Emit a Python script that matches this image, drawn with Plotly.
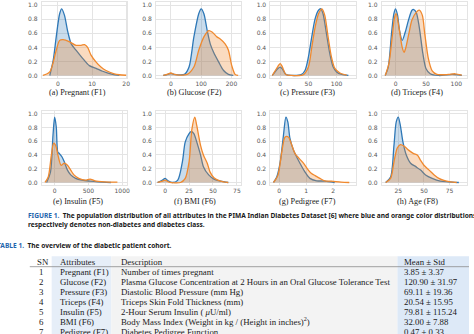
import plotly.graph_objects as go

W, H = 474, 334

# ---- density curves (scaled), non-diabetes (blue) vs diabetes (orange) ----
pregnant_neg_x = [-2.4, -1.4, -0.5, 0.5, 1.1, 1.9, 2.9, 3.9, 5.3, 7.3, 9.2, 11.2, 13.1, 16.0, 18.0]
pregnant_neg_y = [0.0, 0.21, 0.55, 0.88, 0.95, 0.86, 0.62, 0.45, 0.36, 0.24, 0.14, 0.10, 0.06, 0.015, 0.0]
pregnant_pos_x = [-4.4, -2.4, -0.5, 0.5, 1.5, 3.4, 5.3, 6.8, 7.8, 8.7, 9.7, 11.2, 12.6, 14.1, 16.5, 18.0, 20.0]
pregnant_pos_y = [0.0, 0.05, 0.36, 0.50, 0.51, 0.48, 0.43, 0.43, 0.44, 0.40, 0.29, 0.19, 0.12, 0.07, 0.024, 0.01, 0.003]

glucose_neg_x = [-25, -10, 0, 10, 25, 45, 60, 76, 92, 100, 109, 120, 130, 141, 158, 174, 190, 206]
glucose_neg_y = [0.0, 0.015, 0.03, 0.015, 0.008, 0.015, 0.12, 0.55, 0.88, 0.95, 0.88, 0.64, 0.45, 0.33, 0.19, 0.07, 0.015, 0.0]
glucose_pos_x = [-25, -10, 0, 12, 30, 54, 76, 92, 109, 125, 136, 152, 163, 179, 190, 201, 212, 222]
glucose_pos_y = [0.0, 0.02, 0.035, 0.015, 0.005, 0.015, 0.12, 0.36, 0.55, 0.64, 0.62, 0.55, 0.52, 0.45, 0.36, 0.14, 0.015, 0.0]

pressure_neg_x = [-14, -4, 0, 4, 10, 20, 38, 44, 50, 56, 62, 68, 72, 76, 82, 88, 94, 100, 109, 121]
pressure_neg_y = [0.0, 0.10, 0.12, 0.09, 0.015, 0.0, 0.015, 0.07, 0.26, 0.55, 0.81, 0.93, 0.95, 0.88, 0.60, 0.31, 0.12, 0.05, 0.015, 0.0]
pressure_pos_x = [-14, -4, 0, 4, 10, 20, 41, 50, 56, 62, 68, 74, 79, 85, 91, 97, 106, 118]
pressure_pos_y = [0.0, 0.13, 0.17, 0.12, 0.015, 0.0, 0.01, 0.12, 0.40, 0.69, 0.88, 0.95, 0.86, 0.55, 0.26, 0.10, 0.035, 0.005]

triceps_neg_x = [-17, -12, -6.6, -2.7, 0, 3.3, 6.6, 11, 16, 22, 27, 30, 34, 39, 45, 50, 57, 71, 93, 109]
triceps_neg_y = [0.0, 0.12, 0.60, 0.88, 0.95, 0.86, 0.64, 0.50, 0.62, 0.81, 0.93, 0.94, 0.90, 0.69, 0.31, 0.10, 0.025, 0.0, 0.015, 0.0]
triceps_pos_x = [-17, -11, -5.5, -1.6, 1, 5.5, 11, 14, 17, 22, 27, 34, 39, 44, 48, 54, 60, 68, 87, 98, 109]
triceps_pos_y = [0.0, 0.17, 0.55, 0.83, 0.88, 0.69, 0.40, 0.33, 0.40, 0.60, 0.79, 0.90, 0.93, 0.86, 0.60, 0.24, 0.07, 0.015, 0.015, 0.024, 0.005]

insulin_neg_x = [-119, -62, -24, 0, 24, 48, 71, 110, 143, 190, 238, 310, 405, 524, 643, 833]
insulin_neg_y = [0.0, 0.15, 0.69, 0.95, 0.81, 0.44, 0.42, 0.37, 0.30, 0.18, 0.11, 0.06, 0.034, 0.02, 0.01, 0.0]
insulin_pos_x = [-143, -95, -48, -14, 14, 48, 95, 143, 190, 238, 286, 357, 452, 524, 595, 738, 929]
insulin_pos_y = [0.0, 0.08, 0.40, 0.57, 0.54, 0.40, 0.25, 0.28, 0.25, 0.18, 0.11, 0.06, 0.034, 0.05, 0.025, 0.01, 0.005]

bmi_neg_x = [-8, -2.8, 0, 3, 7.6, 13, 18, 21, 25, 27, 30, 33, 37, 40, 45.5, 51, 58, 66]
bmi_neg_y = [0.0, 0.034, 0.06, 0.025, 0.0, 0.03, 0.30, 0.59, 0.71, 0.74, 0.71, 0.59, 0.40, 0.23, 0.11, 0.05, 0.02, 0.0]
bmi_pos_x = [-8, -2.8, 0, 4, 16, 21, 25, 28, 31, 33, 37, 40, 44, 47, 51, 58, 66]
bmi_pos_y = [0.0, 0.02, 0.034, 0.005, 0.0, 0.06, 0.30, 0.78, 0.95, 0.83, 0.54, 0.40, 0.28, 0.15, 0.07, 0.02, 0.0]

pedigree_neg_x = [-0.21, -0.09, 0.04, 0.16, 0.25, 0.32, 0.40, 0.53, 0.65, 0.77, 0.96, 1.14, 1.39, 1.69, 2.06]
pedigree_neg_y = [0.0, 0.08, 0.30, 0.69, 0.95, 0.88, 0.64, 0.47, 0.37, 0.28, 0.15, 0.06, 0.025, 0.02, 0.0]
pedigree_pos_x = [-0.21, -0.05, 0.10, 0.22, 0.34, 0.47, 0.59, 0.74, 0.90, 1.08, 1.20, 1.33, 1.51, 1.69, 1.94, 2.30, 2.60]
pedigree_pos_y = [0.0, 0.10, 0.45, 0.66, 0.66, 0.54, 0.42, 0.35, 0.28, 0.18, 0.13, 0.10, 0.06, 0.025, 0.02, 0.005, 0.0]

age_neg_x = [12.7, 17.5, 20.8, 23, 25, 27, 29.5, 32.8, 37, 42, 46.8, 51.6, 58, 66, 74, 84]
age_neg_y = [0.0, 0.08, 0.54, 0.88, 0.95, 0.83, 0.59, 0.40, 0.28, 0.23, 0.18, 0.11, 0.06, 0.02, 0.01, 0.0]
age_pos_x = [12.7, 17.5, 20.8, 24, 27, 30.5, 35, 40, 43.5, 46.8, 50, 55, 60, 64.6, 69.5, 76, 82]
age_pos_y = [0.0, 0.06, 0.30, 0.50, 0.55, 0.53, 0.47, 0.42, 0.40, 0.32, 0.25, 0.18, 0.11, 0.06, 0.03, 0.01, 0.0]

panel_titles = ["(a) Pregnant (F1)", "(b) Glucose (F2)", "(c) Pressure (F3)", "(d) Triceps (F4)",
                "(e) Insulin (F5)", "(f) BMI (F6)", "(g) Pedigree (F7)", "(h) Age (F8)"]
x_tickvals = [[0, 10, 20], [0, 100, 200], [0, 50, 100], [0, 50, 100],
              [0, 500, 1000], [0, 25, 50, 75], [0, 1, 2], [25, 50, 75]]
x_ranges = [[-4.75, 20.3], [-49, 233], [-17.6, 134], [-23, 117.6],
            [-191, 1074], [-9.6, 79.8], [-0.33, 2.84], [8.7, 92]]
y_tickvals = [0.0, 0.2, 0.4, 0.6, 0.8, 1.0]

# ---- table content ----
sn = ["1", "2", "3", "4", "5", "6", "7"]
attributes = ["Pregnant (F1)", "Glucose (F2)", "Pressure (F3)", "Triceps (F4)",
              "Insulin (F5)", "BMI (F6)", "Pedigree (F7)"]
descriptions = ["Number of times pregnant",
                "Plasma Glucose Concentration at 2 Hours in an Oral Glucose Tolerance Test",
                "Diastolic Blood Pressure (mm Hg)",
                "Triceps Skin Fold Thickness (mm)",
                "2-Hour Serum Insulin ( <i>μ</i>U/ml)",
                "Body Mass Index (Weight in kg / (Height in inches)<sup>2</sup>)",
                "Diabetes Pedigree Function"]
mean_std = ["3.85 ± 3.37", "120.90 ± 31.97", "69.11 ± 19.36", "20.54 ± 15.95",
            "79.81 ± 115.24", "32.00 ± 7.88", "0.47 ± 0.33"]

curves = [
    (pregnant_neg_x, pregnant_neg_y, pregnant_pos_x, pregnant_pos_y),
    (glucose_neg_x, glucose_neg_y, glucose_pos_x, glucose_pos_y),
    (pressure_neg_x, pressure_neg_y, pressure_pos_x, pressure_pos_y),
    (triceps_neg_x, triceps_neg_y, triceps_pos_x, triceps_pos_y),
    (insulin_neg_x, insulin_neg_y, insulin_pos_x, insulin_pos_y),
    (bmi_neg_x, bmi_neg_y, bmi_pos_x, bmi_pos_y),
    (pedigree_neg_x, pedigree_neg_y, pedigree_pos_x, pedigree_pos_y),
    (age_neg_x, age_neg_y, age_pos_x, age_pos_y),
]

BLUE, BLUE_FILL = "#2e78b7", "rgba(46,120,183,0.26)"
ORANGE, ORANGE_FILL = "#f0892e", "rgba(240,137,46,0.30)"


def px_x(v):
    return v / W


def px_y(v):
    return 1 - v / H


col_px = [(42, 128), (157, 243), (272, 358), (384, 470)]
row_px = [(1.5, 77.5), (110.2, 184.8)]
caption_cx = [78, 196, 309, 420]
caption_cy = [92, 201]

fig = go.Figure()
layout = {}
annotations = []
shapes = []

for i, (nx, ny, ox, oy) in enumerate(curves):
    r, c = divmod(i, 4)
    suffix = "" if i == 0 else str(i + 1)
    xa, ya = "x" + suffix, "y" + suffix
    fig.add_trace(go.Scatter(x=nx, y=ny, mode="lines", line=dict(color=BLUE, width=1.3, shape="spline", smoothing=0.8),
                             fill="tozeroy", fillcolor=BLUE_FILL, xaxis=xa, yaxis=ya, showlegend=False,
                             hoverinfo="skip"))
    fig.add_trace(go.Scatter(x=ox, y=oy, mode="lines", line=dict(color=ORANGE, width=1.3, shape="spline", smoothing=0.8),
                             fill="tozeroy", fillcolor=ORANGE_FILL, xaxis=xa, yaxis=ya, showlegend=False,
                             hoverinfo="skip"))
    x0, x1 = col_px[c]
    y0, y1 = row_px[r]
    layout["xaxis" + suffix] = dict(
        domain=[px_x(x0), px_x(x1)], anchor=ya, range=x_ranges[i], tickvals=x_tickvals[i],
        showgrid=True, gridcolor="#e4e4e4", gridwidth=0.8, zeroline=False,
        showline=True, linecolor="#e4e4e4", linewidth=0.8, mirror=True, ticks="",
        tickfont=dict(family="DejaVu Sans", size=6, color="#555555"), ticklabelstandoff=0)
    layout["yaxis" + suffix] = dict(
        domain=[px_y(y1), px_y(y0)], anchor=xa, range=[-0.04, 1.04], tickvals=y_tickvals,
        tickformat=".1f", showgrid=True, gridcolor="#e4e4e4", gridwidth=0.8, zeroline=False,
        showline=True, linecolor="#e4e4e4", linewidth=0.8, mirror=True, ticks="",
        tickfont=dict(family="DejaVu Sans", size=6, color="#555555"), ticklabelstandoff=2)
    annotations.append(dict(text=panel_titles[i], x=px_x(caption_cx[c]), y=px_y(caption_cy[r]),
                            xref="paper", yref="paper", xanchor="center", yanchor="middle", showarrow=False,
                            font=dict(family="Liberation Serif", size=8.2, color="#222222")))

# figure caption
cap_font = dict(family="Noto Sans", size=6.6, color="#1a1a1a")
annotations.append(dict(
    text="<b><span style='color:#1f64ad'>FIGURE 1.</span>  The population distribution of all attributes in the "
         "PIMA Indian Diabetes Dataset [6] where blue and orange color distributions</b>",
    x=px_x(26), y=px_y(215), xref="paper", yref="paper", xanchor="left", yanchor="middle",
    showarrow=False, font=cap_font))
annotations.append(dict(
    text="<b>respectively denotes non-diabetes and diabetes class.</b>",
    x=px_x(26), y=px_y(224), xref="paper", yref="paper", xanchor="left", yanchor="middle",
    showarrow=False, font=cap_font))
annotations.append(dict(
    text="<b><span style='color:#1f64ad'>TABLE 1.</span>  The overview of the diabetic patient cohort.</b>",
    x=px_x(-5), y=px_y(245), xref="paper", yref="paper", xanchor="left", yanchor="middle",
    showarrow=False, font=cap_font))

# table backgrounds and header rule
table_top, table_bottom = 256, 340
shapes.append(dict(type="rect", xref="paper", yref="paper", x0=px_x(52), x1=px_x(112),
                   y0=px_y(table_bottom), y1=px_y(table_top), fillcolor="#e6eef8", line_width=0, layer="below"))
shapes.append(dict(type="rect", xref="paper", yref="paper", x0=px_x(112), x1=px_x(400),
                   y0=px_y(table_bottom), y1=px_y(table_top), fillcolor="#f3f3f3", line_width=0, layer="below"))
shapes.append(dict(type="rect", xref="paper", yref="paper", x0=px_x(400), x1=px_x(472),
                   y0=px_y(table_bottom), y1=px_y(table_top), fillcolor="#dde9f7", line_width=0, layer="below"))
shapes.append(dict(type="line", xref="paper", yref="paper", x0=px_x(30), x1=px_x(472),
                   y0=px_y(266.5), y1=px_y(266.5), line=dict(color="#8a8a8a", width=0.8)))

tab_font = dict(family="Liberation Serif", size=8.8, color="#1a1a1a")
col_x = [35, 58, 120, 405]
header = ["SN", "Attributes", "Description", "Mean ± Std"]
for cx, txt in zip(col_x, header):
    annotations.append(dict(text=txt, x=px_x(cx), y=px_y(261.5), xref="paper", yref="paper",
                            xanchor="left", yanchor="middle", showarrow=False, font=tab_font))
for k in range(len(sn)):
    ry = 271.5 + 10 * k
    for cx, txt in zip(col_x, [sn[k], attributes[k], descriptions[k], mean_std[k]]):
        annotations.append(dict(text=txt, x=px_x(cx + (2 if cx == 35 else 0)), y=px_y(ry), xref="paper",
                                yref="paper", xanchor="left", yanchor="middle", showarrow=False, font=tab_font))

fig.update_layout(width=W, height=H, margin=dict(l=0, r=0, t=0, b=0), paper_bgcolor="white",
                  plot_bgcolor="white", annotations=annotations, shapes=shapes, **layout)

fig.write_html("out.html")
